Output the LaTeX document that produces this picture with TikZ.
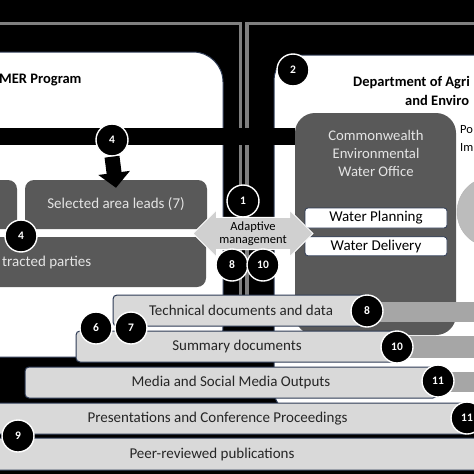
\documentclass[tikz,border=0pt]{standalone}
\usepackage{fontspec}
\setmainfont{Carlito}
\usetikzlibrary{positioning,shapes.arrows,arrows.meta}

\definecolor{boxgray}{HTML}{595959}
\definecolor{bargray}{HTML}{D9D9D9}
\definecolor{midgray}{HTML}{A6A6A6}
\definecolor{framegray}{HTML}{7F7F7F}
\definecolor{edgeblue}{HTML}{2E3B55}
\definecolor{lighttext}{HTML}{E4E4E4}

\begin{document}
\begin{tikzpicture}[x=1pt,y=-1pt]
    \tikzset{
        panel/.style={fill=white, draw=edgeblue, line width=1pt, inner sep=0pt},
        darkbox/.style={fill=boxgray, rounded corners=9pt, inner sep=0pt},
        boxtext/.style={text=lighttext, font=\fontsize{15}{17}\selectfont},
        whitebox/.style={fill=white, draw=edgeblue, line width=0.8pt, rounded corners=3pt,
            inner sep=0pt, minimum width=142pt, font=\fontsize{15}{16}\selectfont},
        barbox/.style={fill=bargray, draw=edgeblue, line width=1pt, rounded corners=4pt,
            minimum height=31pt, inner sep=0pt, text=black!85, font=\fontsize{15}{17}\selectfont},
        numcirc/.style={circle, fill=black, draw=white, line width=1.4pt, minimum size=32pt,
            inner sep=0pt, text=white, font=\bfseries\fontsize{11.5}{13}\selectfont},
        title/.style={anchor=west, inner sep=0pt, font=\bfseries\fontsize{14.5}{16}\selectfont},
        band/.style={line width=17pt, black},
        strip/.style={fill=midgray}
    }
    \useasboundingbox (0,0) rectangle (474,474);
    \clip (0,0) rectangle (474,474);
    \fill[black] (0,0) rectangle (474,474);
    % frames
    \draw[framegray, line width=3.5pt] (-5,23.5) -| (240.5,300);
    \draw[framegray, line width=3.5pt] (247,300) |- (480,23.5);
    % panels
    \node[panel, rounded corners=30pt, minimum width=253pt, minimum height=305pt] (mer) at (96.5,204.5) {};
    \node[panel, rounded corners=25pt, minimum width=250pt, minimum height=360pt] (dept) at (399,235) {};
    \node[title] (mertxt) at (-1,80) {MER Program};
    \node[title] (depta) at (353,83) {Department of Agri};
    \node[title] (deptb) at (405,100) {and Enviro};
    % CEWO
    \node[darkbox, rounded corners=20pt, minimum width=161pt, minimum height=222pt] (cewo) at (375.5,224) {};
    \node[boxtext, align=center, font=\fontsize{14.7}{18}\selectfont] (cewotxt) at (376,153) {Commonwealth\\Environmental\\Water Office};
    \node[whitebox, minimum height=20pt] (wplan) at (376,218) {Water Planning};
    \node[whitebox, minimum height=19pt, below=8pt of wplan] (wdeliv) {Water Delivery};
    \node[circle, fill=midgray!75!white, draw=gray!60, minimum size=70pt] (policy) at (492,212) {};
    \node[anchor=west, inner sep=0pt, font=\fontsize{12.5}{14}\selectfont] (potxt) at (460,130) {Po};
    \node[anchor=west, inner sep=0pt, font=\fontsize{12.5}{14}\selectfont] (imtxt) at (460,147) {Im};
    % band and arrow
    \coordinate (bandL) at (-5,136.5);
    \draw[band] (bandL) -- (bandL -| cewo.west);
    \node[darkbox, minimum width=182pt, minimum height=49pt, boxtext] (leads) at (116,204.5) {Selected area leads (7)};
    \node[darkbox, minimum width=47pt, minimum height=49pt] (lbox) at (-6.5,204.5) {};
    \node[darkbox, minimum width=236pt, minimum height=50pt] (contr) at (88,262) {};
    \node[boxtext, anchor=west, inner sep=0pt] (contrtxt) at (2,262) {tracted parties};
    \node[numcirc] (c4a) at (112,140) {4};
    \draw[line width=15pt, -{Triangle[width=31pt,length=15pt]}] (c4a.south) -- ([yshift=-8pt]leads.north);
    \node[double arrow, double arrow head extend=6pt, fill=bargray!90!gray, draw=white, line width=1pt,
        minimum height=120pt, minimum width=47pt, inner sep=0.5pt, align=center,
        font=\fontsize{12.5}{13}\selectfont] (adapt) at (253,233.5) {Adaptive\\management};
    % outputs
    \fill[strip] (367,302) rectangle (480,322);
    \fill[strip] (397,336) rectangle (480,358);
    \fill[strip] (438,372) rectangle (480,392);
    \node[barbox, minimum width=256pt] (tech) at (241,310.5) {Technical documents and data};
    \node[barbox, minimum width=322pt] (summ) at (237,346.5) {Summary documents};
    \node[barbox, minimum width=412pt] (media) at (231,382.5) {Media and Social Media Outputs};
    \node[barbox, minimum width=505pt] (pres) at (217.5,418.5) {Presentations and Conference Proceedings};
    \node[barbox, minimum width=540pt, minimum height=32pt] (peer) at (212,454) {Peer-reviewed publications};
    % numbers
    \node[numcirc] (c1) at (243,201) {1};
    \node[numcirc] (c2) at (293,70) {2};
    \node[numcirc] (c4b) at (21,236) {4};
    \node[numcirc] (c8a) at (232,265) {8};
    \node[numcirc] (c10a) at (263,265) {10};
    \node[numcirc] (c6) at (96,328) {6};
    \node[numcirc] (c7) at (131,328) {7};
    \node[numcirc] (c8b) at (367,311) {8};
    \node[numcirc] (c10b) at (397,347) {10};
    \node[numcirc] (c11a) at (438,381) {11};
    \node[numcirc] (c11b) at (467,418) {11};
    \node[numcirc] (c9) at (18,436) {9};
\end{tikzpicture}
\end{document}
